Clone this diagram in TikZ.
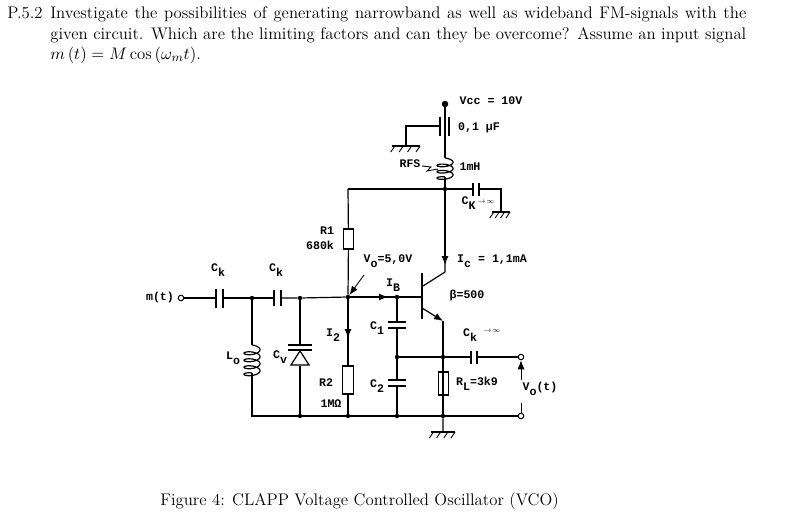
\documentclass[tikz,border=0pt]{standalone}
\usepackage{amssymb}
\usepackage{amsmath}
\usepackage{fontspec}
\setmonofont{Liberation Mono}
\usetikzlibrary{shapes.geometric,arrows.meta}
\newcommand{\lsub}[1]{\raisebox{-5pt}{#1}}
\newcommand{\fullline}[1]{\hbox to 456.4pt{#1}}
\tikzset{
  wire/.style={line width=1.2pt},
  thinwire/.style={line width=0.9pt},
  vplate/.style={rectangle,fill=black,inner sep=0pt,minimum width=1.6pt},
  hplate/.style={rectangle,fill=black,inner sep=0pt,minimum height=1.6pt},
  dot/.style={circle,fill=black,inner sep=0pt,minimum size=4.4pt},
  term/.style={circle,draw,line width=1pt,fill=white,inner sep=0pt,minimum size=5.5pt},
  resbox/.style={rectangle,draw,line width=1.2pt,inner sep=0pt,minimum width=10.5pt},
  lbl/.style={font=\ttfamily\bfseries\fontsize{11.6}{12}\selectfont,inner sep=0pt},
  body/.style={font=\fontsize{11}{13}\selectfont,inner sep=0pt,anchor=base west,scale=1.525,transform shape},
  pics/windings/.style={code={
    \draw[wire] plot[domain=0:360*#1,samples=40*#1,smooth] ({8*sin(\x)},{7*\x/360+3*(1-cos(\x))});
  }},
  pics/gnd/.style={code={
    \draw[wire] (-#1,0) -- (#1,0);
    \foreach \k in {0,...,3}
      \draw[thinwire] ({#1*(\k*0.6-0.8)},0) -- ({#1*(\k*0.6-0.8)-4},6);
  }}
}
\begin{document}
\begin{tikzpicture}[x=1pt,y=-1pt,>={Latex[length=9pt,width=7pt]}]
    \useasboundingbox (0,0) rectangle (795,530);

    % Text of the problem
    \node[body] (pnum) at (7,19) {P.5.2};
    \node[body] (line1) at (50,19) {\fullline{Investigate the possibilities of generating narrowband as well as wideband FM-signals with the}};
    \node[body] (line2) at (50,39) {\fullline{given circuit. Which are the limiting factors and can they be overcome? Assume an input signal}};
    \node[body] (line3) at (50,59) {$m\left(t\right)=M\cos\left(\omega_m t\right)$.};
    \node[body] (caption) at (160,505) {Figure 4: CLAPP Voltage Controlled Oscillator (VCO)};

    % Define the junctions
    \node[dot,minimum size=6.5pt] (vcc) at (445,104) {};
    \node[dot] (top) at (445,189) {};
    \coordinate (topl) at (348,189);
    \node[dot] (base) at (348,297) {};
    \node[dot] (ib) at (397,297) {};
    \node[dot] (lo) at (252,298) {};
    \node[dot] (cv) at (300,298) {};
    \node[dot] (mid) at (397,357) {};
    \node[dot] (emit) at (443,357) {};
    \coordinate (botl) at (252,416);
    \node[dot] (botcv) at (300,416) {};
    \node[dot] (botr) at (348,416) {};
    \node[dot] (botc) at (397,416) {};
    \node[dot] (bote) at (443,416) {};
    \node[term] (min) at (181,298) {};
    \node[term] (vout) at (521,357) {};
    \node[term] (vgnd) at (521,416) {};

    % Supply decoupling and choke
    \node[vplate,minimum height=19pt] (cdl) at (440,126) {};
    \node[vplate,minimum height=19pt] (cdr) at (449,126) {};
    \coordinate (cdg) at (406,126);
    \coordinate (gnda) at (406,146);
    \coordinate (rfsa) at (445,158);
    \coordinate (rfsb) at (445,177);
    \draw[wire] (vcc) -- (rfsa);
    \draw[wire] (rfsb) -- (top);
    \pic[xscale=1,yscale=0.9] at (rfsa) {windings=3};
    \draw[wire] (cdl) -- (cdg) -- (gnda);
    \pic at (gnda) {gnd=14};
    \coordinate (rfsw) at (422,166);
    \coordinate (rfsx) at (431,167);
    \coordinate (rfsy) at (427,171);
    \coordinate (rfsz) at (438,169);
    \draw[thinwire] (rfsw) -- (rfsx) -- (rfsy) -- (rfsz);

    % Collector capacitor
    \node[vplate,minimum height=13pt] (ckal) at (473,189) {};
    \node[vplate,minimum height=13pt] (ckar) at (479,189) {};
    \coordinate (ckac) at (501,189);
    \coordinate (gndb) at (501,212);
    \draw[wire] (topl) -- (top) -- (ckal);
    \draw[wire] (ckar) -- (ckac) -- (gndb);
    \pic at (gndb) {gnd=9};

    % Transistor
    \coordinate (coll) at (445,272);
    \coordinate (collb) at (423,286);
    \coordinate (emb) at (422,308);
    \coordinate (eme) at (443,321);
    \coordinate (bart) at (422,273);
    \coordinate (barb) at (422,319);
    \draw[wire] (bart) -- (barb);
    \draw[wire] (top) -- (coll) -- (collb);
    \draw[wire,->] (top) -- (445,265);
    \draw[wire,->] (emb) -- (eme);
    \draw[wire] (eme) -- (emit) -- (bote);

    % Base network
    \node[resbox,minimum height=20pt] (r1) at (348.5,239) {};
    \node[resbox,minimum height=28pt] (r2) at (348,380) {};
    \draw[wire] (topl) -- (r1) -- (base);
    \draw[wire] (base) -- (r2) -- (botr);
    \draw[wire,->] (base) -- (348,338);
    \coordinate (refv) at (364,275);
    \draw[thinwire,->] (refv) -- (base);
    \coordinate (bar) at (422,297);
    \draw[wire] (base) -- (bar);
    \draw[wire,->] (base) -- (388,297);

    % Capacitors of the divider
    \node[hplate,minimum width=18pt] (c1a) at (397,322) {};
    \node[hplate,minimum width=18pt] (c1b) at (397,328) {};
    \node[hplate,minimum width=18pt] (c2a) at (397,380) {};
    \node[hplate,minimum width=18pt] (c2b) at (397,386) {};
    \draw[wire] (ib) -- (c1a);
    \draw[wire] (c1b) -- (mid) -- (c2a);
    \draw[wire] (c2b) -- (botc);

    % Output
    \node[vplate,minimum height=13pt] (ckol) at (471,357) {};
    \node[vplate,minimum height=13pt] (ckor) at (477,357) {};
    \node[resbox,minimum height=23pt] (rl) at (443.5,383.5) {};
    \coordinate (gndc) at (443,432);
    \draw[wire] (mid) -- (emit) -- (ckol);
    \draw[wire] (ckor) -- (vout);
    \draw[wire] (emit) -- (rl) -- (bote) -- (gndc);
    \pic at (gndc) {gnd=12};
    \coordinate (voa) at (521,380);
    \coordinate (vob) at (521,403);
    \draw[thinwire,->] (voa) -- (vout);
    \draw[thinwire] (vob) -- (vgnd);

    % Input and tank
    \node[vplate,minimum height=19pt] (ck1l) at (216,298) {};
    \node[vplate,minimum height=19pt] (ck1r) at (223,298) {};
    \node[vplate,minimum height=16pt] (ck2l) at (274,298) {};
    \node[vplate,minimum height=16pt] (ck2r) at (281,298) {};
    \coordinate (loa) at (252,345);
    \coordinate (lob) at (252,373);
    \node[hplate,minimum width=24pt] (cva) at (300,345) {};
    \node[hplate,minimum width=24pt] (cvb) at (300,350) {};
    \node[isosceles triangle,draw,line width=1.2pt,shape border rotate=90,isosceles triangle stretches,minimum width=18pt,minimum height=14pt,inner sep=0pt] (cvt) at (300,360) {};
    \draw[wire] (min) -- (ck1l);
    \draw[wire] (ck1r) -- (lo) -- (ck2l);
    \draw[wire] (ck2r) -- (cv) -- (base);
    \draw[wire] (lo) -- (loa);
    \pic at (loa) {windings=4};
    \draw[wire] (lob) -- (botl) -- (botcv) -- (botr) -- (botc) -- (bote) -- (vgnd);
    \draw[wire] (cv) -- (cva);
    \draw[wire] (cvt.south) -- (botcv);

    % Labels
    \node[lbl] (lvcc) at (491,101) {Vcc = 10V};
    \node[lbl] (lcd) at (479,128) {0,1 µF};
    \node[lbl] (lrfs) at (410,164) {RFS};
    \node[lbl] (lmh) at (470,167) {1mH};
    \node[lbl] (lcka) at (478,203) {C\lsub{K}\,\raisebox{1pt}{\scriptsize$\to\!\infty$}};
    \node[lbl] (lr1) at (327,231) {R1};
    \node[lbl] (lr1v) at (320,245) {680k};
    \node[lbl] (lv0) at (388,261) {V\lsub{o}=5,0V};
    \node[lbl] (lic) at (492,261) {I\lsub{c} = 1,1mA};
    \node[lbl] (lib) at (393,285) {I\lsub{B}};
    \node[lbl] (lbeta) at (467,295) {β=500};
    \node[lbl] (lm) at (160,297) {m(t)};
    \node[lbl] (lck1) at (218,270) {C\lsub{k}};
    \node[lbl] (lck2) at (276,270) {C\lsub{k}};
    \node[lbl] (li2) at (333,335) {I\lsub{2}};
    \node[lbl] (lc1) at (377,328) {C\lsub{1}};
    \node[lbl] (lc2) at (377,386) {C\lsub{2}};
    \node[lbl] (lcko) at (470,335) {C\lsub{k}};
    \node[lbl] (linf) at (492,331) {\scriptsize$\to\!\infty$};
    \node[lbl] (llo) at (233,358) {L\lsub{o}};
    \node[lbl] (lcv) at (280,357) {C\lsub{v}};
    \node[lbl] (lr2) at (326,383) {R2};
    \node[lbl] (lr2v) at (331,404) {1MΩ};
    \node[lbl] (lrl) at (477,384) {R\lsub{L}=3k9};
    \node[lbl] (lvo) at (540,389) {V\lsub{o}(t)};
\end{tikzpicture}
\end{document}
